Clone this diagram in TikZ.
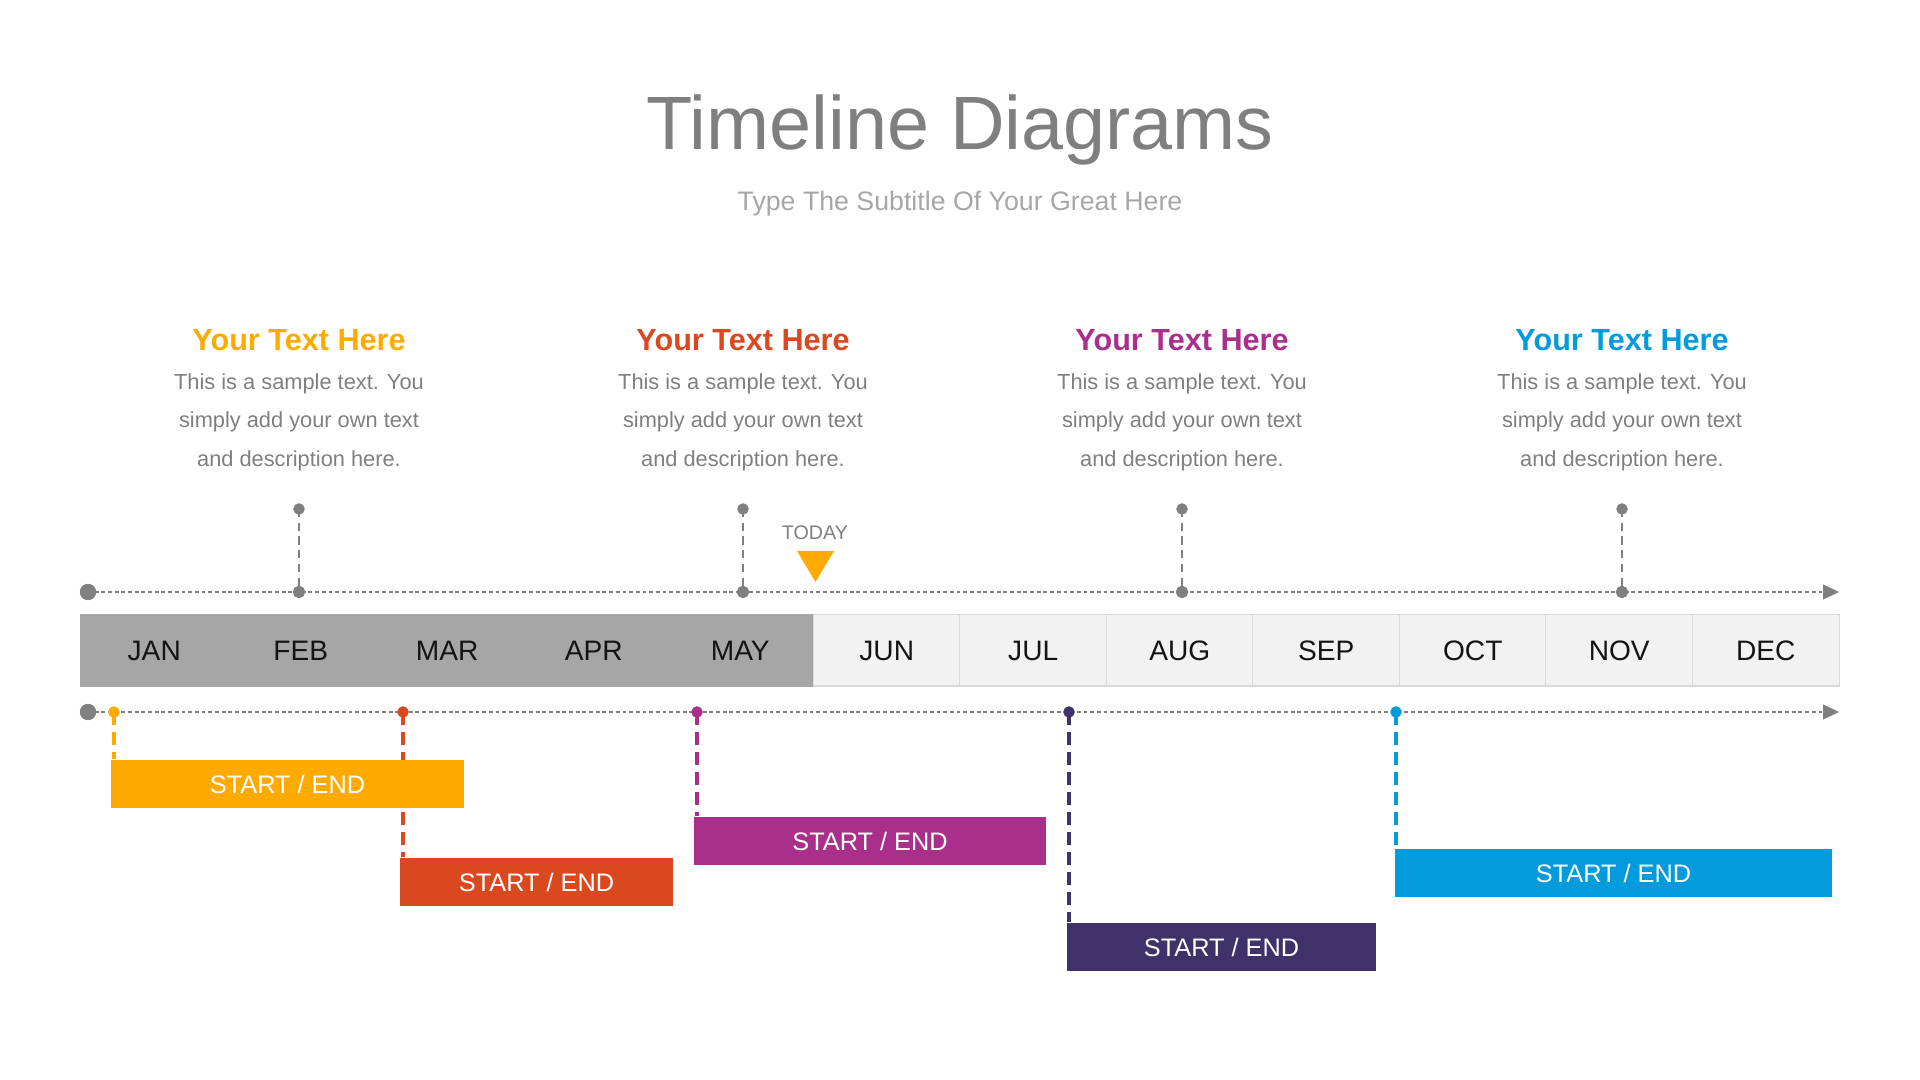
\documentclass[tikz,border=0pt]{standalone}
\usepackage{fontspec}
\setmainfont{Liberation Sans}
\usetikzlibrary{arrows.meta,backgrounds}
\definecolor{cOrange}{HTML}{FFAA00}
\definecolor{cRed}{HTML}{DA481F}
\definecolor{cMagenta}{HTML}{AA2F8B}
\definecolor{cPurple}{HTML}{3F3169}
\definecolor{cBlue}{HTML}{049BDC}
\definecolor{cGray}{HTML}{7F7F7F}
\definecolor{cSub}{HTML}{A6A6A6}
\definecolor{cDark}{HTML}{A6A6A6}
\definecolor{cLight}{HTML}{F2F2F2}
\definecolor{cLine}{HTML}{D9D9D9}
\begin{document}
\begin{tikzpicture}[x=0.01cm, y=-0.01cm]
    \tikzset{>={Triangle[length=0.16cm,width=0.15cm]}}
    \tikzset{
      axis/.style={cGray, line width=0.3pt, dash pattern=on 1.1pt off 0.8pt},
      pin/.style={cGray, line width=0.8pt, dash pattern=on 2.3pt off 1.6pt},
      drop/.style={line width=0.9pt, dash pattern=on 3.7pt off 2pt},
      month/.style={minimum width=1.465cm, minimum height=0.71cm, inner sep=0, line width=0.3pt, text=black!92, font=\fontsize{8}{9}\selectfont},
      head/.style={inner sep=0, font=\bfseries\fontsize{8.7}{10}\selectfont},
      desc/.style={inner sep=0, align=center, text=cGray, font=\fontsize{6.2}{10.95}\selectfont},
      bar/.style={minimum height=0.48cm, inner sep=0, text=white, font=\fontsize{7.2}{8}\selectfont}
    }
    \useasboundingbox (0,0) rectangle (1920,1080);
    % title
    \node[text=cGray, font=\fontsize{21.5}{24}\selectfont] (title) at (960,130) {Timeline Diagrams};
    \node[text=cSub, font=\fontsize{7.6}{9}\selectfont] (subtitle) at (960,204) {Type The Subtitle Of Your Great Here};
    % months
    \foreach \m [count=\i] in {JAN,FEB,MAR,APR,MAY,JUN,JUL,AUG,SEP,OCT,NOV,DEC} {
      \ifnum\i<6 \def\cellfill{cDark}\def\celldraw{cDark}\else\def\cellfill{cLight}\def\celldraw{cLine}\fi
      \node[month, fill=\cellfill, draw=\celldraw] (m\i) at ({81+(\i-0.5)*146.5},650.5) {\m};
    }
    % time axes
    \coordinate (A0) at (88,592);
    \coordinate (A1) at (1839,592);
    \coordinate (B0) at (88,712);
    \coordinate (B1) at (1839,712);
    \draw[axis,->] (A0) -- (A1);
    \draw[axis,->] (B0) -- (B1);
    \filldraw[cGray] (A0) circle (0.075cm);
    \filldraw[cGray] (B0) circle (0.075cm);
    % texts above
    \foreach \x/\c [count=\i] in {299/cOrange,743/cRed,1182/cMagenta,1622/cBlue} {
      \node[head, text=\c] (h\i) at (\x,340) {Your Text Here};
      \node[desc] (d\i) at (\x,422) {This is a sample text. You\\simply add your own text\\and description here.};
      \coordinate (p\i) at (\x,509);
      \coordinate (q\i) at (\x,592);
      \draw[pin] (p\i) -- (q\i);
      \filldraw[cGray] (p\i) circle (0.05cm);
      \filldraw[cGray] (q\i) circle (0.055cm);
    }
    % today
    \node[text=cGray, font=\fontsize{5.6}{6}\selectfont] (today) at (815,533) {TODAY};
    \fill[cOrange] (797,551) -- (834,551) -- (815.5,582) -- cycle;
    % start / end bars
    \foreach \x/\c/\l/\r/\t [count=\i] in {114/cOrange/111/464/760,403/cRed/400/673/858,697/cMagenta/694/1046/817,1069/cPurple/1067/1376/923,1396/cBlue/1395/1832/849} {
      \pgfmathsetmacro\w{(\r-\l)/100}
      \node[bar, fill=\c, minimum width=\w cm] (b\i) at ({(\l+\r)/2},{\t+24}) {START / END};
      \coordinate (s\i) at (\x,712);
      \begin{pgfonlayer}{background}
        \draw[drop, \c] (s\i) -- (s\i |- b\i.north);
      \end{pgfonlayer}
      \filldraw[\c] (s\i) circle (0.05cm);
    }
\end{tikzpicture}
\end{document}
